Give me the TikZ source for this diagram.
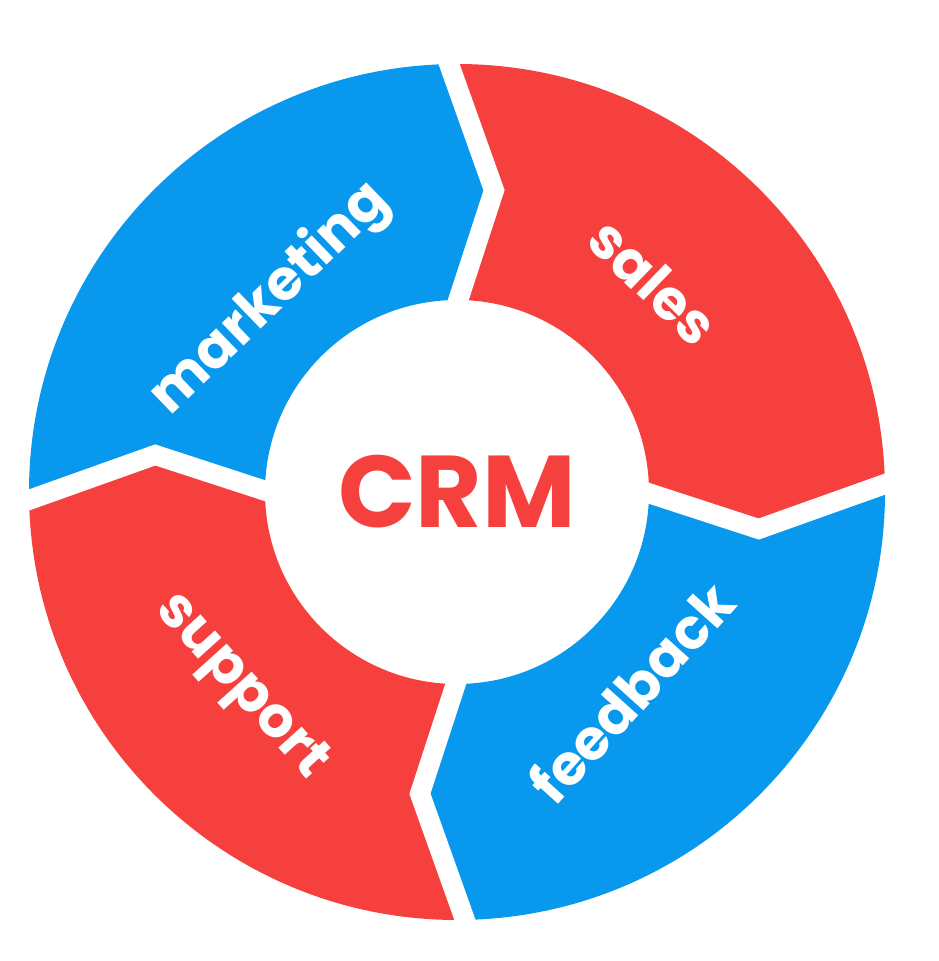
\documentclass[tikz,border=0pt]{standalone}
\usepackage{fontspec}
\usetikzlibrary{calc}
\setmainfont{Poppins}
\definecolor{cblue}{HTML}{0899EE}
\definecolor{cred}{HTML}{F6403E}
\begin{document}
\begin{tikzpicture}[
  lbl/.style={text=white,font=\fontsize{16}{16}\selectfont\bfseries,inner sep=0pt},
  gapline/.style={white,line width=0.2cm,line join=miter}]
\useasboundingbox (0,0) rectangle (9.39,9.61);
\coordinate (c) at (4.57,4.69);
\def\Ro{4.28}\def\Ri{1.92}\def\Rm{3.04}
\foreach \g/\col in {92/cred,2/cblue,-88/cred,182/cblue}{
  \pgfmathsetmacro{\h}{\g-90}
  \fill[\col] ($(c)+(\g:\Ro)$) arc[start angle=\g,end angle=\h,radius=\Ro]
    -- ($(c)+(\h-9:\Rm)$) -- ($(c)+(\h:\Ri)$)
    arc[start angle=\h,end angle=\g,radius=\Ri]
    -- ($(c)+(\g-9:\Rm)$) -- cycle;
}
\foreach \g in {92,2,-88,182}{
  \draw[gapline] ($(c)+(\g:4.5)$) -- ($(c)+(\g-9:\Rm)$) -- ($(c)+(\g:1.7)$);
}
\node[lbl,rotate=44] (m) at ($(c)+(134:2.68)$) {marketing};
\node[lbl,rotate=-44] (s) at ($(c)+(47:2.88)$) {sales};
\node[lbl,rotate=48] (f) at ($(c)+(-49:2.65)$) {feedback};
\node[lbl,rotate=-48] (p) at ($(c)+(-138:2.92)$) {support};
\node[text=cred,font=\fontsize{29}{29}\selectfont\bfseries,inner sep=0pt] (crm) at (c) {CRM};
\end{tikzpicture}
\end{document}
